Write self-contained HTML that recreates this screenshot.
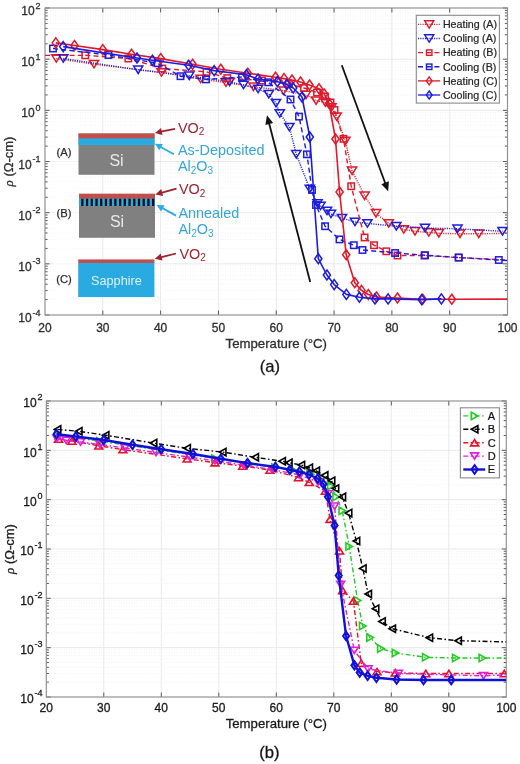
<!DOCTYPE html>
<html><head><meta charset="utf-8"><title>Resistivity vs Temperature</title>
<style>html,body{margin:0;padding:0;background:#fff;}svg{display:block;}</style>
</head><body>
<svg width="520" height="764" viewBox="0 0 520 764">
<defs><clipPath id="ca"><rect x="45" y="8" width="462.5" height="307"/></clipPath>
<clipPath id="cb"><rect x="46.3" y="401" width="460" height="296"/></clipPath></defs>
<rect width="520" height="764" fill="#fff"/>
<line x1="102.81" y1="8" x2="102.81" y2="315" stroke="#e9e9e9" stroke-width="1"/>
<line x1="160.62" y1="8" x2="160.62" y2="315" stroke="#e9e9e9" stroke-width="1"/>
<line x1="218.44" y1="8" x2="218.44" y2="315" stroke="#e9e9e9" stroke-width="1"/>
<line x1="276.25" y1="8" x2="276.25" y2="315" stroke="#e9e9e9" stroke-width="1"/>
<line x1="334.06" y1="8" x2="334.06" y2="315" stroke="#e9e9e9" stroke-width="1"/>
<line x1="391.88" y1="8" x2="391.88" y2="315" stroke="#e9e9e9" stroke-width="1"/>
<line x1="449.69" y1="8" x2="449.69" y2="315" stroke="#e9e9e9" stroke-width="1"/>
<line x1="45" y1="299.6" x2="507.5" y2="299.6" stroke="#f2f2f2" stroke-width="1" stroke-dasharray="1 1.5"/>
<line x1="45" y1="290.59" x2="507.5" y2="290.59" stroke="#f2f2f2" stroke-width="1" stroke-dasharray="1 1.5"/>
<line x1="45" y1="284.19" x2="507.5" y2="284.19" stroke="#f2f2f2" stroke-width="1" stroke-dasharray="1 1.5"/>
<line x1="45" y1="279.24" x2="507.5" y2="279.24" stroke="#f2f2f2" stroke-width="1" stroke-dasharray="1 1.5"/>
<line x1="45" y1="275.18" x2="507.5" y2="275.18" stroke="#f2f2f2" stroke-width="1" stroke-dasharray="1 1.5"/>
<line x1="45" y1="271.76" x2="507.5" y2="271.76" stroke="#f2f2f2" stroke-width="1" stroke-dasharray="1 1.5"/>
<line x1="45" y1="268.79" x2="507.5" y2="268.79" stroke="#f2f2f2" stroke-width="1" stroke-dasharray="1 1.5"/>
<line x1="45" y1="266.17" x2="507.5" y2="266.17" stroke="#f2f2f2" stroke-width="1" stroke-dasharray="1 1.5"/>
<line x1="45" y1="263.83" x2="507.5" y2="263.83" stroke="#e9e9e9" stroke-width="1"/>
<line x1="45" y1="248.43" x2="507.5" y2="248.43" stroke="#f2f2f2" stroke-width="1" stroke-dasharray="1 1.5"/>
<line x1="45" y1="239.42" x2="507.5" y2="239.42" stroke="#f2f2f2" stroke-width="1" stroke-dasharray="1 1.5"/>
<line x1="45" y1="233.03" x2="507.5" y2="233.03" stroke="#f2f2f2" stroke-width="1" stroke-dasharray="1 1.5"/>
<line x1="45" y1="228.07" x2="507.5" y2="228.07" stroke="#f2f2f2" stroke-width="1" stroke-dasharray="1 1.5"/>
<line x1="45" y1="224.02" x2="507.5" y2="224.02" stroke="#f2f2f2" stroke-width="1" stroke-dasharray="1 1.5"/>
<line x1="45" y1="220.59" x2="507.5" y2="220.59" stroke="#f2f2f2" stroke-width="1" stroke-dasharray="1 1.5"/>
<line x1="45" y1="217.63" x2="507.5" y2="217.63" stroke="#f2f2f2" stroke-width="1" stroke-dasharray="1 1.5"/>
<line x1="45" y1="215.01" x2="507.5" y2="215.01" stroke="#f2f2f2" stroke-width="1" stroke-dasharray="1 1.5"/>
<line x1="45" y1="212.67" x2="507.5" y2="212.67" stroke="#e9e9e9" stroke-width="1"/>
<line x1="45" y1="197.26" x2="507.5" y2="197.26" stroke="#f2f2f2" stroke-width="1" stroke-dasharray="1 1.5"/>
<line x1="45" y1="188.25" x2="507.5" y2="188.25" stroke="#f2f2f2" stroke-width="1" stroke-dasharray="1 1.5"/>
<line x1="45" y1="181.86" x2="507.5" y2="181.86" stroke="#f2f2f2" stroke-width="1" stroke-dasharray="1 1.5"/>
<line x1="45" y1="176.9" x2="507.5" y2="176.9" stroke="#f2f2f2" stroke-width="1" stroke-dasharray="1 1.5"/>
<line x1="45" y1="172.85" x2="507.5" y2="172.85" stroke="#f2f2f2" stroke-width="1" stroke-dasharray="1 1.5"/>
<line x1="45" y1="169.43" x2="507.5" y2="169.43" stroke="#f2f2f2" stroke-width="1" stroke-dasharray="1 1.5"/>
<line x1="45" y1="166.46" x2="507.5" y2="166.46" stroke="#f2f2f2" stroke-width="1" stroke-dasharray="1 1.5"/>
<line x1="45" y1="163.84" x2="507.5" y2="163.84" stroke="#f2f2f2" stroke-width="1" stroke-dasharray="1 1.5"/>
<line x1="45" y1="161.5" x2="507.5" y2="161.5" stroke="#e9e9e9" stroke-width="1"/>
<line x1="45" y1="146.1" x2="507.5" y2="146.1" stroke="#f2f2f2" stroke-width="1" stroke-dasharray="1 1.5"/>
<line x1="45" y1="137.09" x2="507.5" y2="137.09" stroke="#f2f2f2" stroke-width="1" stroke-dasharray="1 1.5"/>
<line x1="45" y1="130.69" x2="507.5" y2="130.69" stroke="#f2f2f2" stroke-width="1" stroke-dasharray="1 1.5"/>
<line x1="45" y1="125.74" x2="507.5" y2="125.74" stroke="#f2f2f2" stroke-width="1" stroke-dasharray="1 1.5"/>
<line x1="45" y1="121.68" x2="507.5" y2="121.68" stroke="#f2f2f2" stroke-width="1" stroke-dasharray="1 1.5"/>
<line x1="45" y1="118.26" x2="507.5" y2="118.26" stroke="#f2f2f2" stroke-width="1" stroke-dasharray="1 1.5"/>
<line x1="45" y1="115.29" x2="507.5" y2="115.29" stroke="#f2f2f2" stroke-width="1" stroke-dasharray="1 1.5"/>
<line x1="45" y1="112.67" x2="507.5" y2="112.67" stroke="#f2f2f2" stroke-width="1" stroke-dasharray="1 1.5"/>
<line x1="45" y1="110.33" x2="507.5" y2="110.33" stroke="#e9e9e9" stroke-width="1"/>
<line x1="45" y1="94.93" x2="507.5" y2="94.93" stroke="#f2f2f2" stroke-width="1" stroke-dasharray="1 1.5"/>
<line x1="45" y1="85.92" x2="507.5" y2="85.92" stroke="#f2f2f2" stroke-width="1" stroke-dasharray="1 1.5"/>
<line x1="45" y1="79.53" x2="507.5" y2="79.53" stroke="#f2f2f2" stroke-width="1" stroke-dasharray="1 1.5"/>
<line x1="45" y1="74.57" x2="507.5" y2="74.57" stroke="#f2f2f2" stroke-width="1" stroke-dasharray="1 1.5"/>
<line x1="45" y1="70.52" x2="507.5" y2="70.52" stroke="#f2f2f2" stroke-width="1" stroke-dasharray="1 1.5"/>
<line x1="45" y1="67.09" x2="507.5" y2="67.09" stroke="#f2f2f2" stroke-width="1" stroke-dasharray="1 1.5"/>
<line x1="45" y1="64.13" x2="507.5" y2="64.13" stroke="#f2f2f2" stroke-width="1" stroke-dasharray="1 1.5"/>
<line x1="45" y1="61.51" x2="507.5" y2="61.51" stroke="#f2f2f2" stroke-width="1" stroke-dasharray="1 1.5"/>
<line x1="45" y1="59.17" x2="507.5" y2="59.17" stroke="#e9e9e9" stroke-width="1"/>
<line x1="45" y1="43.76" x2="507.5" y2="43.76" stroke="#f2f2f2" stroke-width="1" stroke-dasharray="1 1.5"/>
<line x1="45" y1="34.75" x2="507.5" y2="34.75" stroke="#f2f2f2" stroke-width="1" stroke-dasharray="1 1.5"/>
<line x1="45" y1="28.36" x2="507.5" y2="28.36" stroke="#f2f2f2" stroke-width="1" stroke-dasharray="1 1.5"/>
<line x1="45" y1="23.4" x2="507.5" y2="23.4" stroke="#f2f2f2" stroke-width="1" stroke-dasharray="1 1.5"/>
<line x1="45" y1="19.35" x2="507.5" y2="19.35" stroke="#f2f2f2" stroke-width="1" stroke-dasharray="1 1.5"/>
<line x1="45" y1="15.93" x2="507.5" y2="15.93" stroke="#f2f2f2" stroke-width="1" stroke-dasharray="1 1.5"/>
<line x1="45" y1="12.96" x2="507.5" y2="12.96" stroke="#f2f2f2" stroke-width="1" stroke-dasharray="1 1.5"/>
<line x1="45" y1="10.34" x2="507.5" y2="10.34" stroke="#f2f2f2" stroke-width="1" stroke-dasharray="1 1.5"/>
<path d="M102.81 315v-4.5M102.81 8v4.5M160.62 315v-4.5M160.62 8v4.5M218.44 315v-4.5M218.44 8v4.5M276.25 315v-4.5M276.25 8v4.5M334.06 315v-4.5M334.06 8v4.5M391.88 315v-4.5M391.88 8v4.5M449.69 315v-4.5M449.69 8v4.5M45 315h4.5M507.5 315h-4.5M45 299.6h2.6M507.5 299.6h-2.6M45 290.59h2.6M507.5 290.59h-2.6M45 284.19h2.6M507.5 284.19h-2.6M45 279.24h2.6M507.5 279.24h-2.6M45 275.18h2.6M507.5 275.18h-2.6M45 271.76h2.6M507.5 271.76h-2.6M45 268.79h2.6M507.5 268.79h-2.6M45 266.17h2.6M507.5 266.17h-2.6M45 263.83h4.5M507.5 263.83h-4.5M45 248.43h2.6M507.5 248.43h-2.6M45 239.42h2.6M507.5 239.42h-2.6M45 233.03h2.6M507.5 233.03h-2.6M45 228.07h2.6M507.5 228.07h-2.6M45 224.02h2.6M507.5 224.02h-2.6M45 220.59h2.6M507.5 220.59h-2.6M45 217.63h2.6M507.5 217.63h-2.6M45 215.01h2.6M507.5 215.01h-2.6M45 212.67h4.5M507.5 212.67h-4.5M45 197.26h2.6M507.5 197.26h-2.6M45 188.25h2.6M507.5 188.25h-2.6M45 181.86h2.6M507.5 181.86h-2.6M45 176.9h2.6M507.5 176.9h-2.6M45 172.85h2.6M507.5 172.85h-2.6M45 169.43h2.6M507.5 169.43h-2.6M45 166.46h2.6M507.5 166.46h-2.6M45 163.84h2.6M507.5 163.84h-2.6M45 161.5h4.5M507.5 161.5h-4.5M45 146.1h2.6M507.5 146.1h-2.6M45 137.09h2.6M507.5 137.09h-2.6M45 130.69h2.6M507.5 130.69h-2.6M45 125.74h2.6M507.5 125.74h-2.6M45 121.68h2.6M507.5 121.68h-2.6M45 118.26h2.6M507.5 118.26h-2.6M45 115.29h2.6M507.5 115.29h-2.6M45 112.67h2.6M507.5 112.67h-2.6M45 110.33h4.5M507.5 110.33h-4.5M45 94.93h2.6M507.5 94.93h-2.6M45 85.92h2.6M507.5 85.92h-2.6M45 79.53h2.6M507.5 79.53h-2.6M45 74.57h2.6M507.5 74.57h-2.6M45 70.52h2.6M507.5 70.52h-2.6M45 67.09h2.6M507.5 67.09h-2.6M45 64.13h2.6M507.5 64.13h-2.6M45 61.51h2.6M507.5 61.51h-2.6M45 59.17h4.5M507.5 59.17h-4.5M45 43.76h2.6M507.5 43.76h-2.6M45 34.75h2.6M507.5 34.75h-2.6M45 28.36h2.6M507.5 28.36h-2.6M45 23.4h2.6M507.5 23.4h-2.6M45 19.35h2.6M507.5 19.35h-2.6M45 15.93h2.6M507.5 15.93h-2.6M45 12.96h2.6M507.5 12.96h-2.6M45 10.34h2.6M507.5 10.34h-2.6M45 8h4.5M507.5 8h-4.5" stroke="#5a5a5a" stroke-width="1" fill="none"/>
<rect x="45" y="8" width="462.5" height="307" fill="none" stroke="#8e8e8e" stroke-width="1.15"/>
<rect x="54" y="120" width="24" height="180" fill="#fff" fill-opacity="0.6"/>
<path d="M56.3 58.5L94 64.2L161.5 72.5L200.6 79L226 82.6L253.5 86.8L283.5 90.6L306 95L316.1 100.6L325.4 102.6L331.5 107.5L336.7 116.7L345.4 141L352.1 170.8L364.6 195.8L376 213.3L388.7 223.5L403.8 229.5L415 231.3L428.8 232.5L438.8 233.3L460 233.8L478.8 233.8L507.5 233.3" fill="none" stroke="#de1a2c" stroke-width="1.4" stroke-dasharray="1.1 1.2" stroke-linejoin="round" clip-path="url(#ca)"/>
<g fill="none" stroke="#de1a2c" stroke-width="1.5" stroke-linejoin="miter" clip-path="url(#ca)"><path d="M51.7 54.8L60.9 54.8L56.3 62.2Z"/><path d="M89.4 60.5L98.6 60.5L94 67.9Z"/><path d="M156.9 68.8L166.1 68.8L161.5 76.2Z"/><path d="M196 75.3L205.2 75.3L200.6 82.7Z"/><path d="M221.4 78.9L230.6 78.9L226 86.3Z"/><path d="M248.9 83.1L258.1 83.1L253.5 90.5Z"/><path d="M278.9 86.9L288.1 86.9L283.5 94.3Z"/><path d="M301.4 91.3L310.6 91.3L306 98.7Z"/><path d="M311.5 96.9L320.7 96.9L316.1 104.3Z"/><path d="M320.8 98.9L330 98.9L325.4 106.3Z"/><path d="M326.9 103.8L336.1 103.8L331.5 111.2Z"/><path d="M332.1 113L341.3 113L336.7 120.4Z"/><path d="M340.8 137.3L350 137.3L345.4 144.7Z"/><path d="M347.5 167.1L356.7 167.1L352.1 174.5Z"/><path d="M360 192.1L369.2 192.1L364.6 199.5Z"/><path d="M371.4 209.6L380.6 209.6L376 217Z"/><path d="M384.1 219.8L393.3 219.8L388.7 227.2Z"/><path d="M399.2 225.8L408.4 225.8L403.8 233.2Z"/><path d="M410.4 227.6L419.6 227.6L415 235Z"/><path d="M424.2 228.8L433.4 228.8L428.8 236.2Z"/><path d="M434.2 229.6L443.4 229.6L438.8 237Z"/><path d="M455.4 230.1L464.6 230.1L460 237.5Z"/><path d="M474.2 230.1L483.4 230.1L478.8 237.5Z"/></g>
<path d="M63.3 58.5L138.2 69.8L189.2 75.8L229.6 81.9L243.5 85L258.1 89L268.8 94.2L276 103.2L279.8 113.5L289.4 127.2L296.3 154.3L309.8 189L317.5 203.5L320.5 206L327 211L331 214L342 218.1L355 222L367.4 223.4L396.3 226.3L425 228L457.5 228.8L502.5 231.3" fill="none" stroke="#1c1cde" stroke-width="1.4" stroke-dasharray="1.1 1.2" stroke-linejoin="round" clip-path="url(#ca)"/>
<g fill="none" stroke="#1c1cde" stroke-width="1.5" stroke-linejoin="miter" clip-path="url(#ca)"><path d="M58.7 54.8L67.9 54.8L63.3 62.2Z"/><path d="M133.6 66.1L142.8 66.1L138.2 73.5Z"/><path d="M184.6 72.1L193.8 72.1L189.2 79.5Z"/><path d="M225 78.2L234.2 78.2L229.6 85.6Z"/><path d="M238.9 81.3L248.1 81.3L243.5 88.7Z"/><path d="M253.5 85.3L262.7 85.3L258.1 92.7Z"/><path d="M264.2 90.5L273.4 90.5L268.8 97.9Z"/><path d="M271.4 99.5L280.6 99.5L276 106.9Z"/><path d="M275.2 109.8L284.4 109.8L279.8 117.2Z"/><path d="M284.8 123.5L294 123.5L289.4 130.9Z"/><path d="M291.7 150.6L300.9 150.6L296.3 158Z"/><path d="M305.2 185.3L314.4 185.3L309.8 192.7Z"/><path d="M312.9 199.8L322.1 199.8L317.5 207.2Z"/><path d="M315.9 202.3L325.1 202.3L320.5 209.7Z"/><path d="M322.4 207.3L331.6 207.3L327 214.7Z"/><path d="M326.4 210.3L335.6 210.3L331 217.7Z"/><path d="M337.4 214.4L346.6 214.4L342 221.8Z"/><path d="M350.4 218.3L359.6 218.3L355 225.7Z"/><path d="M362.8 219.7L372 219.7L367.4 227.1Z"/><path d="M391.7 222.6L400.9 222.6L396.3 230Z"/><path d="M420.4 224.3L429.6 224.3L425 231.7Z"/><path d="M452.9 225.1L462.1 225.1L457.5 232.5Z"/><path d="M497.9 227.6L507.1 227.6L502.5 235Z"/></g>
<path d="M85.3 55.3L128.3 58.5L162.3 68.5L206.5 71.9L227.3 78.1L262 80.5L289 84L304 88L317 92.5L325 96.5L330.5 102.5L334.5 110L343.5 138.8L351.2 186.2L364.6 237.5L374 245.2L386.3 251.3L397.5 255.5L424.5 255.5L458.5 257.6L507.5 260" fill="none" stroke="#de1a2c" stroke-width="1.4" stroke-dasharray="5 3.2" stroke-linejoin="round" clip-path="url(#ca)"/>
<g fill="none" stroke="#de1a2c" stroke-width="1.5" stroke-linejoin="miter" clip-path="url(#ca)"><rect x="82.1" y="52.1" width="6.4" height="6.4"/><rect x="125.1" y="55.3" width="6.4" height="6.4"/><rect x="159.1" y="65.3" width="6.4" height="6.4"/><rect x="203.3" y="68.7" width="6.4" height="6.4"/><rect x="224.1" y="74.9" width="6.4" height="6.4"/><rect x="258.8" y="77.3" width="6.4" height="6.4"/><rect x="285.8" y="80.8" width="6.4" height="6.4"/><rect x="300.8" y="84.8" width="6.4" height="6.4"/><rect x="313.8" y="89.3" width="6.4" height="6.4"/><rect x="321.8" y="93.3" width="6.4" height="6.4"/><rect x="327.3" y="99.3" width="6.4" height="6.4"/><rect x="331.3" y="106.8" width="6.4" height="6.4"/><rect x="340.3" y="135.6" width="6.4" height="6.4"/><rect x="348" y="183" width="6.4" height="6.4"/><rect x="361.4" y="234.3" width="6.4" height="6.4"/><rect x="370.8" y="242" width="6.4" height="6.4"/><rect x="383.1" y="248.1" width="6.4" height="6.4"/><rect x="394.3" y="252.3" width="6.4" height="6.4"/><rect x="421.3" y="252.3" width="6.4" height="6.4"/><rect x="455.3" y="254.4" width="6.4" height="6.4"/></g>
<path d="M45 55.3L85.3 55.3" stroke="#de1a2c" stroke-width="1.3" stroke-dasharray="5 3.2"/>
<path d="M53 48.5L108.5 55L157.7 63.2L180.5 76.2L206 79.4L242 77L268.2 82.3L290.5 99.5L299 116.6L306.9 154.3L312 190L316 205L325.1 226.2L339.5 239.4L353.8 245.2L362.5 250L395.1 253L425 255.2L458.8 257.5L498.8 260L507.5 260.5" fill="none" stroke="#1c1cde" stroke-width="1.4" stroke-dasharray="5 3.2" stroke-linejoin="round" clip-path="url(#ca)"/>
<g fill="none" stroke="#1c1cde" stroke-width="1.5" stroke-linejoin="miter" clip-path="url(#ca)"><rect x="49.8" y="45.3" width="6.4" height="6.4"/><rect x="105.3" y="51.8" width="6.4" height="6.4"/><rect x="154.5" y="60" width="6.4" height="6.4"/><rect x="177.3" y="73" width="6.4" height="6.4"/><rect x="202.8" y="76.2" width="6.4" height="6.4"/><rect x="238.8" y="73.8" width="6.4" height="6.4"/><rect x="265" y="79.1" width="6.4" height="6.4"/><rect x="287.3" y="96.3" width="6.4" height="6.4"/><rect x="295.8" y="113.4" width="6.4" height="6.4"/><rect x="303.7" y="151.1" width="6.4" height="6.4"/><rect x="308.8" y="186.8" width="6.4" height="6.4"/><rect x="312.8" y="201.8" width="6.4" height="6.4"/><rect x="321.9" y="223" width="6.4" height="6.4"/><rect x="336.3" y="236.2" width="6.4" height="6.4"/><rect x="350.6" y="242" width="6.4" height="6.4"/><rect x="359.3" y="246.8" width="6.4" height="6.4"/><rect x="391.9" y="249.8" width="6.4" height="6.4"/><rect x="421.8" y="252" width="6.4" height="6.4"/><rect x="455.6" y="254.3" width="6.4" height="6.4"/><rect x="495.6" y="256.8" width="6.4" height="6.4"/></g>
<path d="M55.8 42.9L74.5 45.5L102.8 49.6L131.5 54.2L160.8 58.6L192.6 64.2L220.8 69.3L247.8 73.2L275.5 77.2L284 78.6L292 80L300.5 82L309.5 85L319 88.8L324.2 94L329 103.3L335.5 139L339.6 192L346.2 254.8L354.8 282.7L361.5 290.4L368.3 294.5L376.5 297L397.5 298L422.7 299.2L451.8 299.2L507.5 299.1" fill="none" stroke="#de1a2c" stroke-width="1.6" stroke-linejoin="round" clip-path="url(#ca)"/>
<g fill="none" stroke="#de1a2c" stroke-width="1.5" stroke-linejoin="miter" clip-path="url(#ca)"><path d="M55.8 37.9L59.4 42.9L55.8 47.9L52.2 42.9Z"/><path d="M74.5 40.5L78.1 45.5L74.5 50.5L70.9 45.5Z"/><path d="M102.8 44.6L106.4 49.6L102.8 54.6L99.2 49.6Z"/><path d="M131.5 49.2L135.1 54.2L131.5 59.2L127.9 54.2Z"/><path d="M160.8 53.6L164.4 58.6L160.8 63.6L157.2 58.6Z"/><path d="M192.6 59.2L196.2 64.2L192.6 69.2L189 64.2Z"/><path d="M220.8 64.3L224.4 69.3L220.8 74.3L217.2 69.3Z"/><path d="M247.8 68.2L251.4 73.2L247.8 78.2L244.2 73.2Z"/><path d="M275.5 72.2L279.1 77.2L275.5 82.2L271.9 77.2Z"/><path d="M284 73.6L287.6 78.6L284 83.6L280.4 78.6Z"/><path d="M292 75L295.6 80L292 85L288.4 80Z"/><path d="M300.5 77L304.1 82L300.5 87L296.9 82Z"/><path d="M309.5 80L313.1 85L309.5 90L305.9 85Z"/><path d="M319 83.8L322.6 88.8L319 93.8L315.4 88.8Z"/><path d="M324.2 89L327.8 94L324.2 99L320.6 94Z"/><path d="M329 98.3L332.6 103.3L329 108.3L325.4 103.3Z"/><path d="M335.5 134L339.1 139L335.5 144L331.9 139Z"/><path d="M339.6 187L343.2 192L339.6 197L336 192Z"/><path d="M346.2 249.8L349.8 254.8L346.2 259.8L342.6 254.8Z"/><path d="M354.8 277.7L358.4 282.7L354.8 287.7L351.2 282.7Z"/><path d="M361.5 285.4L365.1 290.4L361.5 295.4L357.9 290.4Z"/><path d="M368.3 289.5L371.9 294.5L368.3 299.5L364.7 294.5Z"/><path d="M376.5 292L380.1 297L376.5 302L372.9 297Z"/><path d="M397.5 293L401.1 298L397.5 303L393.9 298Z"/><path d="M422.7 294.2L426.3 299.2L422.7 304.2L419.1 299.2Z"/><path d="M451.8 294.2L455.4 299.2L451.8 304.2L448.2 299.2Z"/></g>
<path d="M63.2 46.6L137 58L152.4 60.2L188.6 65.3L214.2 70.6L246.4 74.8L258 79L277.4 81.6L286.8 84.5L293.2 88L302 97L309.8 137L318.3 258.7L326.9 275L334.2 284.6L346.4 294.4L359.4 297.2L375 298.9L388.1 298.9L421.7 299.6L441.4 298.9" fill="none" stroke="#1c1cde" stroke-width="1.6" stroke-linejoin="round" clip-path="url(#ca)"/>
<g fill="none" stroke="#1c1cde" stroke-width="1.5" stroke-linejoin="miter" clip-path="url(#ca)"><path d="M63.2 41.6L66.8 46.6L63.2 51.6L59.6 46.6Z"/><path d="M137 53L140.6 58L137 63L133.4 58Z"/><path d="M152.4 55.2L156 60.2L152.4 65.2L148.8 60.2Z"/><path d="M188.6 60.3L192.2 65.3L188.6 70.3L185 65.3Z"/><path d="M214.2 65.6L217.8 70.6L214.2 75.6L210.6 70.6Z"/><path d="M246.4 69.8L250 74.8L246.4 79.8L242.8 74.8Z"/><path d="M258 74L261.6 79L258 84L254.4 79Z"/><path d="M277.4 76.6L281 81.6L277.4 86.6L273.8 81.6Z"/><path d="M286.8 79.5L290.4 84.5L286.8 89.5L283.2 84.5Z"/><path d="M293.2 83L296.8 88L293.2 93L289.6 88Z"/><path d="M302 92L305.6 97L302 102L298.4 97Z"/><path d="M309.8 132L313.4 137L309.8 142L306.2 137Z"/><path d="M318.3 253.7L321.9 258.7L318.3 263.7L314.7 258.7Z"/><path d="M326.9 270L330.5 275L326.9 280L323.3 275Z"/><path d="M334.2 279.6L337.8 284.6L334.2 289.6L330.6 284.6Z"/><path d="M346.4 289.4L350 294.4L346.4 299.4L342.8 294.4Z"/><path d="M359.4 292.2L363 297.2L359.4 302.2L355.8 297.2Z"/><path d="M375 293.9L378.6 298.9L375 303.9L371.4 298.9Z"/><path d="M388.1 293.9L391.7 298.9L388.1 303.9L384.5 298.9Z"/><path d="M421.7 294.6L425.3 299.6L421.7 304.6L418.1 299.6Z"/><path d="M441.4 293.9L445 298.9L441.4 303.9L437.8 298.9Z"/></g>
<path d="M310.2 282L269.01 122.94" stroke="#111" stroke-width="1.8"/>
<path d="M267 115.2L273.13 122.91L265.38 124.92Z" fill="#111"/>
<path d="M341.8 65.3L385.43 183.69" stroke="#111" stroke-width="1.8"/>
<path d="M388.2 191.2L381.33 184.14L388.84 181.37Z" fill="#111"/>
<rect x="78.5" y="133.5" width="76" height="41.3" fill="#808080"/>
<rect x="78.5" y="138.2" width="76" height="7" fill="#29abe2"/>
<rect x="78.5" y="133.5" width="76" height="4.8" fill="#c0504d"/>
<rect x="79" y="193.8" width="76" height="44" fill="#808080"/>
<rect x="79" y="198.5" width="76" height="7.5" fill="#29abe2"/>
<rect x="81.2" y="198.5" width="2.3" height="7.5" fill="#0a0a14"/><rect x="85.92" y="198.5" width="2.3" height="7.5" fill="#0a0a14"/><rect x="90.64" y="198.5" width="2.3" height="7.5" fill="#0a0a14"/><rect x="95.36" y="198.5" width="2.3" height="7.5" fill="#0a0a14"/><rect x="100.08" y="198.5" width="2.3" height="7.5" fill="#0a0a14"/><rect x="104.8" y="198.5" width="2.3" height="7.5" fill="#0a0a14"/><rect x="109.52" y="198.5" width="2.3" height="7.5" fill="#0a0a14"/><rect x="114.24" y="198.5" width="2.3" height="7.5" fill="#0a0a14"/><rect x="118.96" y="198.5" width="2.3" height="7.5" fill="#0a0a14"/><rect x="123.68" y="198.5" width="2.3" height="7.5" fill="#0a0a14"/><rect x="128.4" y="198.5" width="2.3" height="7.5" fill="#0a0a14"/><rect x="133.12" y="198.5" width="2.3" height="7.5" fill="#0a0a14"/><rect x="137.84" y="198.5" width="2.3" height="7.5" fill="#0a0a14"/><rect x="142.56" y="198.5" width="2.3" height="7.5" fill="#0a0a14"/><rect x="147.28" y="198.5" width="2.3" height="7.5" fill="#0a0a14"/><rect x="152" y="198.5" width="2.3" height="7.5" fill="#0a0a14"/>
<rect x="79" y="193.8" width="76" height="4.6" fill="#c0504d"/>
<rect x="78.2" y="262.8" width="76.2" height="34.3" fill="#29abe2"/>
<rect x="78.2" y="259.4" width="76.2" height="3.6" fill="#c0504d"/>
<path d="M175 128.8L160.78 131.7" stroke="#a0222f" stroke-width="1.8"/>
<path d="M154.9 132.9L161.04 127.97L162.48 135.03Z" fill="#a0222f"/>
<path d="M173.9 154.2L160.16 146.68" stroke="#29abe2" stroke-width="1.8"/>
<path d="M154.9 143.8L162.77 144L159.31 150.32Z" fill="#29abe2"/>
<path d="M176.5 188.7L161.19 192.84" stroke="#a0222f" stroke-width="1.8"/>
<path d="M155.4 194.4L161.22 189.1L163.1 196.05Z" fill="#a0222f"/>
<path d="M176 215.6L161.96 207.89" stroke="#29abe2" stroke-width="1.8"/>
<path d="M156.7 205L164.57 205.21L161.1 211.53Z" fill="#29abe2"/>
<path d="M176 253.5L160.62 257.34" stroke="#a0222f" stroke-width="1.8"/>
<path d="M154.8 258.8L160.72 253.61L162.46 260.59Z" fill="#a0222f"/>
<g font-family="'Liberation Sans', Arial, sans-serif"><text x="178" y="133.1" fill="#a0222f" font-size="14.4">VO<tspan font-size="10" dy="2.3">2</tspan></text><text x="178" y="154.6" fill="#32a6da" font-size="14.4">As-Deposited</text><text x="178" y="171.2" fill="#32a6da" font-size="14.4">Al<tspan font-size="10" dy="2.3">2</tspan><tspan dy="-2.3">O</tspan><tspan font-size="10" dy="2.3">3</tspan></text><text x="179" y="194.4" fill="#a0222f" font-size="14.4">VO<tspan font-size="10" dy="2.3">2</tspan></text><text x="178.5" y="217.5" fill="#32a6da" font-size="14.4">Annealed</text><text x="178.5" y="234.4" fill="#32a6da" font-size="14.4">Al<tspan font-size="10" dy="2.3">2</tspan><tspan dy="-2.3">O</tspan><tspan font-size="10" dy="2.3">3</tspan></text><text x="179.5" y="258.8" fill="#a0222f" font-size="14.4">VO<tspan font-size="10" dy="2.3">2</tspan></text><text x="116.5" y="165.8" fill="#e8e8e8" font-size="16" text-anchor="middle">Si</text><text x="117" y="227.2" fill="#e8e8e8" font-size="16" text-anchor="middle">Si</text><text x="116.4" y="285" fill="#dff0fa" font-size="12.7" text-anchor="middle">Sapphire</text><text x="64" y="155.6" fill="#2a2a2a" font-size="11.2" text-anchor="middle" stroke="#2a2a2a" stroke-width="0.25">(A)</text><text x="64" y="217" fill="#2a2a2a" font-size="11.2" text-anchor="middle" stroke="#2a2a2a" stroke-width="0.25">(B)</text><text x="64" y="283.4" fill="#2a2a2a" font-size="11.2" text-anchor="middle" stroke="#2a2a2a" stroke-width="0.25">(C)</text></g>
<rect x="416.3" y="15.3" width="83.1" height="87.8" fill="#fff" stroke="#8a8a8a" stroke-width="1.1"/>
<path d="M418 24.4H440.2" stroke="#de1a2c" stroke-width="1.3" stroke-dasharray="1.1 1.2"/>
<g fill="none" stroke="#de1a2c" stroke-width="1.4"><path d="M424.6 20.7L433.8 20.7L429.2 28.1Z"/></g>
<path d="M418 38.52H440.2" stroke="#1c1cde" stroke-width="1.3" stroke-dasharray="1.1 1.2"/>
<g fill="none" stroke="#1c1cde" stroke-width="1.4"><path d="M424.6 34.82L433.8 34.82L429.2 42.22Z"/></g>
<path d="M418 52.64H440.2" stroke="#de1a2c" stroke-width="1.3" stroke-dasharray="5 3.2"/>
<g fill="none" stroke="#de1a2c" stroke-width="1.4"><rect x="426.48" y="49.92" width="5.44" height="5.44"/></g>
<path d="M418 66.76H440.2" stroke="#1c1cde" stroke-width="1.3" stroke-dasharray="5 3.2"/>
<g fill="none" stroke="#1c1cde" stroke-width="1.4"><rect x="426.48" y="64.04" width="5.44" height="5.44"/></g>
<path d="M418 80.88H440.2" stroke="#de1a2c" stroke-width="1.3"/>
<g fill="none" stroke="#de1a2c" stroke-width="1.4"><path d="M429.2 76.88L432.08 80.88L429.2 84.88L426.32 80.88Z"/></g>
<path d="M418 95H440.2" stroke="#1c1cde" stroke-width="1.3"/>
<g fill="none" stroke="#1c1cde" stroke-width="1.4"><path d="M429.2 91L432.08 95L429.2 99L426.32 95Z"/></g>
<g fill="#262626" stroke="#262626" stroke-width="0.22" font-family="'Liberation Sans', Arial, sans-serif"><text x="442.9" y="28.2" font-size="10.7">Heating (A)</text><text x="442.9" y="42.32" font-size="10.7">Cooling (A)</text><text x="442.9" y="56.44" font-size="10.7">Heating (B)</text><text x="442.9" y="70.56" font-size="10.7">Cooling (B)</text><text x="442.9" y="84.68" font-size="10.7">Heating (C)</text><text x="442.9" y="98.8" font-size="10.7">Cooling (C)</text></g>
<line x1="103.8" y1="401" x2="103.8" y2="697" stroke="#e9e9e9" stroke-width="1"/>
<line x1="161.3" y1="401" x2="161.3" y2="697" stroke="#e9e9e9" stroke-width="1"/>
<line x1="218.8" y1="401" x2="218.8" y2="697" stroke="#e9e9e9" stroke-width="1"/>
<line x1="276.3" y1="401" x2="276.3" y2="697" stroke="#e9e9e9" stroke-width="1"/>
<line x1="333.8" y1="401" x2="333.8" y2="697" stroke="#e9e9e9" stroke-width="1"/>
<line x1="391.3" y1="401" x2="391.3" y2="697" stroke="#e9e9e9" stroke-width="1"/>
<line x1="448.8" y1="401" x2="448.8" y2="697" stroke="#e9e9e9" stroke-width="1"/>
<line x1="46.3" y1="682.15" x2="506.3" y2="682.15" stroke="#f2f2f2" stroke-width="1" stroke-dasharray="1 1.5"/>
<line x1="46.3" y1="673.46" x2="506.3" y2="673.46" stroke="#f2f2f2" stroke-width="1" stroke-dasharray="1 1.5"/>
<line x1="46.3" y1="667.3" x2="506.3" y2="667.3" stroke="#f2f2f2" stroke-width="1" stroke-dasharray="1 1.5"/>
<line x1="46.3" y1="662.52" x2="506.3" y2="662.52" stroke="#f2f2f2" stroke-width="1" stroke-dasharray="1 1.5"/>
<line x1="46.3" y1="658.61" x2="506.3" y2="658.61" stroke="#f2f2f2" stroke-width="1" stroke-dasharray="1 1.5"/>
<line x1="46.3" y1="655.31" x2="506.3" y2="655.31" stroke="#f2f2f2" stroke-width="1" stroke-dasharray="1 1.5"/>
<line x1="46.3" y1="652.45" x2="506.3" y2="652.45" stroke="#f2f2f2" stroke-width="1" stroke-dasharray="1 1.5"/>
<line x1="46.3" y1="649.92" x2="506.3" y2="649.92" stroke="#f2f2f2" stroke-width="1" stroke-dasharray="1 1.5"/>
<line x1="46.3" y1="647.67" x2="506.3" y2="647.67" stroke="#e9e9e9" stroke-width="1"/>
<line x1="46.3" y1="632.82" x2="506.3" y2="632.82" stroke="#f2f2f2" stroke-width="1" stroke-dasharray="1 1.5"/>
<line x1="46.3" y1="624.13" x2="506.3" y2="624.13" stroke="#f2f2f2" stroke-width="1" stroke-dasharray="1 1.5"/>
<line x1="46.3" y1="617.97" x2="506.3" y2="617.97" stroke="#f2f2f2" stroke-width="1" stroke-dasharray="1 1.5"/>
<line x1="46.3" y1="613.18" x2="506.3" y2="613.18" stroke="#f2f2f2" stroke-width="1" stroke-dasharray="1 1.5"/>
<line x1="46.3" y1="609.28" x2="506.3" y2="609.28" stroke="#f2f2f2" stroke-width="1" stroke-dasharray="1 1.5"/>
<line x1="46.3" y1="605.98" x2="506.3" y2="605.98" stroke="#f2f2f2" stroke-width="1" stroke-dasharray="1 1.5"/>
<line x1="46.3" y1="603.11" x2="506.3" y2="603.11" stroke="#f2f2f2" stroke-width="1" stroke-dasharray="1 1.5"/>
<line x1="46.3" y1="600.59" x2="506.3" y2="600.59" stroke="#f2f2f2" stroke-width="1" stroke-dasharray="1 1.5"/>
<line x1="46.3" y1="598.33" x2="506.3" y2="598.33" stroke="#e9e9e9" stroke-width="1"/>
<line x1="46.3" y1="583.48" x2="506.3" y2="583.48" stroke="#f2f2f2" stroke-width="1" stroke-dasharray="1 1.5"/>
<line x1="46.3" y1="574.8" x2="506.3" y2="574.8" stroke="#f2f2f2" stroke-width="1" stroke-dasharray="1 1.5"/>
<line x1="46.3" y1="568.63" x2="506.3" y2="568.63" stroke="#f2f2f2" stroke-width="1" stroke-dasharray="1 1.5"/>
<line x1="46.3" y1="563.85" x2="506.3" y2="563.85" stroke="#f2f2f2" stroke-width="1" stroke-dasharray="1 1.5"/>
<line x1="46.3" y1="559.94" x2="506.3" y2="559.94" stroke="#f2f2f2" stroke-width="1" stroke-dasharray="1 1.5"/>
<line x1="46.3" y1="556.64" x2="506.3" y2="556.64" stroke="#f2f2f2" stroke-width="1" stroke-dasharray="1 1.5"/>
<line x1="46.3" y1="553.78" x2="506.3" y2="553.78" stroke="#f2f2f2" stroke-width="1" stroke-dasharray="1 1.5"/>
<line x1="46.3" y1="551.26" x2="506.3" y2="551.26" stroke="#f2f2f2" stroke-width="1" stroke-dasharray="1 1.5"/>
<line x1="46.3" y1="549" x2="506.3" y2="549" stroke="#e9e9e9" stroke-width="1"/>
<line x1="46.3" y1="534.15" x2="506.3" y2="534.15" stroke="#f2f2f2" stroke-width="1" stroke-dasharray="1 1.5"/>
<line x1="46.3" y1="525.46" x2="506.3" y2="525.46" stroke="#f2f2f2" stroke-width="1" stroke-dasharray="1 1.5"/>
<line x1="46.3" y1="519.3" x2="506.3" y2="519.3" stroke="#f2f2f2" stroke-width="1" stroke-dasharray="1 1.5"/>
<line x1="46.3" y1="514.52" x2="506.3" y2="514.52" stroke="#f2f2f2" stroke-width="1" stroke-dasharray="1 1.5"/>
<line x1="46.3" y1="510.61" x2="506.3" y2="510.61" stroke="#f2f2f2" stroke-width="1" stroke-dasharray="1 1.5"/>
<line x1="46.3" y1="507.31" x2="506.3" y2="507.31" stroke="#f2f2f2" stroke-width="1" stroke-dasharray="1 1.5"/>
<line x1="46.3" y1="504.45" x2="506.3" y2="504.45" stroke="#f2f2f2" stroke-width="1" stroke-dasharray="1 1.5"/>
<line x1="46.3" y1="501.92" x2="506.3" y2="501.92" stroke="#f2f2f2" stroke-width="1" stroke-dasharray="1 1.5"/>
<line x1="46.3" y1="499.67" x2="506.3" y2="499.67" stroke="#e9e9e9" stroke-width="1"/>
<line x1="46.3" y1="484.82" x2="506.3" y2="484.82" stroke="#f2f2f2" stroke-width="1" stroke-dasharray="1 1.5"/>
<line x1="46.3" y1="476.13" x2="506.3" y2="476.13" stroke="#f2f2f2" stroke-width="1" stroke-dasharray="1 1.5"/>
<line x1="46.3" y1="469.97" x2="506.3" y2="469.97" stroke="#f2f2f2" stroke-width="1" stroke-dasharray="1 1.5"/>
<line x1="46.3" y1="465.18" x2="506.3" y2="465.18" stroke="#f2f2f2" stroke-width="1" stroke-dasharray="1 1.5"/>
<line x1="46.3" y1="461.28" x2="506.3" y2="461.28" stroke="#f2f2f2" stroke-width="1" stroke-dasharray="1 1.5"/>
<line x1="46.3" y1="457.98" x2="506.3" y2="457.98" stroke="#f2f2f2" stroke-width="1" stroke-dasharray="1 1.5"/>
<line x1="46.3" y1="455.11" x2="506.3" y2="455.11" stroke="#f2f2f2" stroke-width="1" stroke-dasharray="1 1.5"/>
<line x1="46.3" y1="452.59" x2="506.3" y2="452.59" stroke="#f2f2f2" stroke-width="1" stroke-dasharray="1 1.5"/>
<line x1="46.3" y1="450.33" x2="506.3" y2="450.33" stroke="#e9e9e9" stroke-width="1"/>
<line x1="46.3" y1="435.48" x2="506.3" y2="435.48" stroke="#f2f2f2" stroke-width="1" stroke-dasharray="1 1.5"/>
<line x1="46.3" y1="426.8" x2="506.3" y2="426.8" stroke="#f2f2f2" stroke-width="1" stroke-dasharray="1 1.5"/>
<line x1="46.3" y1="420.63" x2="506.3" y2="420.63" stroke="#f2f2f2" stroke-width="1" stroke-dasharray="1 1.5"/>
<line x1="46.3" y1="415.85" x2="506.3" y2="415.85" stroke="#f2f2f2" stroke-width="1" stroke-dasharray="1 1.5"/>
<line x1="46.3" y1="411.94" x2="506.3" y2="411.94" stroke="#f2f2f2" stroke-width="1" stroke-dasharray="1 1.5"/>
<line x1="46.3" y1="408.64" x2="506.3" y2="408.64" stroke="#f2f2f2" stroke-width="1" stroke-dasharray="1 1.5"/>
<line x1="46.3" y1="405.78" x2="506.3" y2="405.78" stroke="#f2f2f2" stroke-width="1" stroke-dasharray="1 1.5"/>
<line x1="46.3" y1="403.26" x2="506.3" y2="403.26" stroke="#f2f2f2" stroke-width="1" stroke-dasharray="1 1.5"/>
<path d="M103.8 697v-4.5M103.8 401v4.5M161.3 697v-4.5M161.3 401v4.5M218.8 697v-4.5M218.8 401v4.5M276.3 697v-4.5M276.3 401v4.5M333.8 697v-4.5M333.8 401v4.5M391.3 697v-4.5M391.3 401v4.5M448.8 697v-4.5M448.8 401v4.5M46.3 697h4.5M506.3 697h-4.5M46.3 682.15h2.6M506.3 682.15h-2.6M46.3 673.46h2.6M506.3 673.46h-2.6M46.3 667.3h2.6M506.3 667.3h-2.6M46.3 662.52h2.6M506.3 662.52h-2.6M46.3 658.61h2.6M506.3 658.61h-2.6M46.3 655.31h2.6M506.3 655.31h-2.6M46.3 652.45h2.6M506.3 652.45h-2.6M46.3 649.92h2.6M506.3 649.92h-2.6M46.3 647.67h4.5M506.3 647.67h-4.5M46.3 632.82h2.6M506.3 632.82h-2.6M46.3 624.13h2.6M506.3 624.13h-2.6M46.3 617.97h2.6M506.3 617.97h-2.6M46.3 613.18h2.6M506.3 613.18h-2.6M46.3 609.28h2.6M506.3 609.28h-2.6M46.3 605.98h2.6M506.3 605.98h-2.6M46.3 603.11h2.6M506.3 603.11h-2.6M46.3 600.59h2.6M506.3 600.59h-2.6M46.3 598.33h4.5M506.3 598.33h-4.5M46.3 583.48h2.6M506.3 583.48h-2.6M46.3 574.8h2.6M506.3 574.8h-2.6M46.3 568.63h2.6M506.3 568.63h-2.6M46.3 563.85h2.6M506.3 563.85h-2.6M46.3 559.94h2.6M506.3 559.94h-2.6M46.3 556.64h2.6M506.3 556.64h-2.6M46.3 553.78h2.6M506.3 553.78h-2.6M46.3 551.26h2.6M506.3 551.26h-2.6M46.3 549h4.5M506.3 549h-4.5M46.3 534.15h2.6M506.3 534.15h-2.6M46.3 525.46h2.6M506.3 525.46h-2.6M46.3 519.3h2.6M506.3 519.3h-2.6M46.3 514.52h2.6M506.3 514.52h-2.6M46.3 510.61h2.6M506.3 510.61h-2.6M46.3 507.31h2.6M506.3 507.31h-2.6M46.3 504.45h2.6M506.3 504.45h-2.6M46.3 501.92h2.6M506.3 501.92h-2.6M46.3 499.67h4.5M506.3 499.67h-4.5M46.3 484.82h2.6M506.3 484.82h-2.6M46.3 476.13h2.6M506.3 476.13h-2.6M46.3 469.97h2.6M506.3 469.97h-2.6M46.3 465.18h2.6M506.3 465.18h-2.6M46.3 461.28h2.6M506.3 461.28h-2.6M46.3 457.98h2.6M506.3 457.98h-2.6M46.3 455.11h2.6M506.3 455.11h-2.6M46.3 452.59h2.6M506.3 452.59h-2.6M46.3 450.33h4.5M506.3 450.33h-4.5M46.3 435.48h2.6M506.3 435.48h-2.6M46.3 426.8h2.6M506.3 426.8h-2.6M46.3 420.63h2.6M506.3 420.63h-2.6M46.3 415.85h2.6M506.3 415.85h-2.6M46.3 411.94h2.6M506.3 411.94h-2.6M46.3 408.64h2.6M506.3 408.64h-2.6M46.3 405.78h2.6M506.3 405.78h-2.6M46.3 403.26h2.6M506.3 403.26h-2.6M46.3 401h4.5M506.3 401h-4.5" stroke="#5a5a5a" stroke-width="1" fill="none"/>
<rect x="46.3" y="401" width="460" height="296" fill="none" stroke="#8e8e8e" stroke-width="1.15"/>
<path d="M58 435.5L100 441.2L160 450L215 458.5L250 464L275 467.5L293 470L310 473L322 477.5L331 486L336.2 496.9L342.3 510.8L349.2 546.5L357.6 600.5L362.8 626L370.1 637.6L380.9 648.6L395.6 653L425.8 657.3L455.8 658L482.4 658L506.3 658" fill="none" stroke="#22cc22" stroke-width="1.4" stroke-dasharray="5 2.4 1.6 2.4" stroke-linejoin="round" clip-path="url(#cb)"/>
<g fill="none" stroke="#22cc22" stroke-width="1.6" stroke-linejoin="miter" clip-path="url(#cb)"><path d="M54.73 431.8L54.73 439.2L61.27 435.5Z"/><path d="M96.73 437.5L96.73 444.9L103.27 441.2Z"/><path d="M156.73 446.3L156.73 453.7L163.27 450Z"/><path d="M211.73 454.8L211.73 462.2L218.27 458.5Z"/><path d="M246.73 460.3L246.73 467.7L253.27 464Z"/><path d="M271.73 463.8L271.73 471.2L278.27 467.5Z"/><path d="M289.73 466.3L289.73 473.7L296.27 470Z"/><path d="M306.73 469.3L306.73 476.7L313.27 473Z"/><path d="M318.73 473.8L318.73 481.2L325.27 477.5Z"/><path d="M327.73 482.3L327.73 489.7L334.27 486Z"/><path d="M332.93 493.2L332.93 500.6L339.47 496.9Z"/><path d="M339.03 507.1L339.03 514.5L345.57 510.8Z"/><path d="M345.93 542.8L345.93 550.2L352.47 546.5Z"/><path d="M354.33 596.8L354.33 604.2L360.87 600.5Z"/><path d="M359.53 622.3L359.53 629.7L366.07 626Z"/><path d="M366.83 633.9L366.83 641.3L373.37 637.6Z"/><path d="M377.63 644.9L377.63 652.3L384.17 648.6Z"/><path d="M392.33 649.3L392.33 656.7L398.87 653Z"/><path d="M422.53 653.6L422.53 661L429.07 657.3Z"/><path d="M452.53 654.3L452.53 661.7L459.07 658Z"/><path d="M479.13 654.3L479.13 661.7L485.67 658Z"/></g>
<path d="M57.5 429.4L78.7 431.3L105.6 435.2L153.5 443.1L187.1 448.3L222.7 452.1L255.2 457.3L282.1 461.2L288.8 462.7L301.3 465L309.2 467.7L316.2 470.8L324.6 475.4L331.5 480.8L335.4 488.5L342.3 496.9L348.5 513.1L356.4 541L362.8 568.5L368.2 594L375.5 608.7L382 621.5L392.2 628.7L429.3 637.7L458.1 640.7L506.3 641.9" fill="none" stroke="#000" stroke-width="1.4" stroke-dasharray="5 2.4 1.6 2.4" stroke-linejoin="round" clip-path="url(#cb)"/>
<g fill="none" stroke="#000" stroke-width="1.6" stroke-linejoin="miter" clip-path="url(#cb)"><path d="M60.77 425.7L60.77 433.1L54.23 429.4Z"/><path d="M81.97 427.6L81.97 435L75.43 431.3Z"/><path d="M108.87 431.5L108.87 438.9L102.33 435.2Z"/><path d="M156.77 439.4L156.77 446.8L150.23 443.1Z"/><path d="M190.37 444.6L190.37 452L183.83 448.3Z"/><path d="M225.97 448.4L225.97 455.8L219.43 452.1Z"/><path d="M258.47 453.6L258.47 461L251.93 457.3Z"/><path d="M285.37 457.5L285.37 464.9L278.83 461.2Z"/><path d="M292.07 459L292.07 466.4L285.53 462.7Z"/><path d="M304.57 461.3L304.57 468.7L298.03 465Z"/><path d="M312.47 464L312.47 471.4L305.93 467.7Z"/><path d="M319.47 467.1L319.47 474.5L312.93 470.8Z"/><path d="M327.87 471.7L327.87 479.1L321.33 475.4Z"/><path d="M334.77 477.1L334.77 484.5L328.23 480.8Z"/><path d="M338.67 484.8L338.67 492.2L332.13 488.5Z"/><path d="M345.57 493.2L345.57 500.6L339.03 496.9Z"/><path d="M351.77 509.4L351.77 516.8L345.23 513.1Z"/><path d="M359.67 537.3L359.67 544.7L353.13 541Z"/><path d="M366.07 564.8L366.07 572.2L359.53 568.5Z"/><path d="M371.47 590.3L371.47 597.7L364.93 594Z"/><path d="M378.77 605L378.77 612.4L372.23 608.7Z"/><path d="M385.27 617.8L385.27 625.2L378.73 621.5Z"/><path d="M395.47 625L395.47 632.4L388.93 628.7Z"/><path d="M432.57 634L432.57 641.4L426.03 637.7Z"/><path d="M461.37 637L461.37 644.4L454.83 640.7Z"/></g>
<path d="M58.5 439L71.9 441L98.8 445.8L122.9 449.6L187.1 458.8L215 462.7L242.7 466L270 470L298.5 477.5L309.2 482.3L325.4 491L330 519.2L339.5 550.8L342.6 590.5L353.4 601L361.2 663.2L377 671.6L395.3 672.8L425.8 673.5L448.9 673.5L504.3 673.5" fill="none" stroke="#e8102a" stroke-width="1.4" stroke-dasharray="5 2.4 1.6 2.4" stroke-linejoin="round" clip-path="url(#cb)"/>
<g fill="none" stroke="#e8102a" stroke-width="1.6" stroke-linejoin="miter" clip-path="url(#cb)"><path d="M54.54 442.18L62.46 442.18L58.5 435.82Z"/><path d="M67.94 444.18L75.86 444.18L71.9 437.82Z"/><path d="M94.84 448.98L102.76 448.98L98.8 442.62Z"/><path d="M118.94 452.78L126.86 452.78L122.9 446.42Z"/><path d="M183.14 461.98L191.06 461.98L187.1 455.62Z"/><path d="M211.04 465.88L218.96 465.88L215 459.52Z"/><path d="M238.74 469.18L246.66 469.18L242.7 462.82Z"/><path d="M266.04 473.18L273.96 473.18L270 466.82Z"/><path d="M294.54 480.68L302.46 480.68L298.5 474.32Z"/><path d="M305.24 485.48L313.16 485.48L309.2 479.12Z"/><path d="M321.44 494.18L329.36 494.18L325.4 487.82Z"/><path d="M326.04 522.38L333.96 522.38L330 516.02Z"/><path d="M335.54 553.98L343.46 553.98L339.5 547.62Z"/><path d="M338.64 593.68L346.56 593.68L342.6 587.32Z"/><path d="M349.44 604.18L357.36 604.18L353.4 597.82Z"/><path d="M357.24 666.38L365.16 666.38L361.2 660.02Z"/><path d="M373.04 674.78L380.96 674.78L377 668.42Z"/><path d="M391.34 675.98L399.26 675.98L395.3 669.62Z"/><path d="M421.84 676.68L429.76 676.68L425.8 670.32Z"/><path d="M444.94 676.68L452.86 676.68L448.9 670.32Z"/><path d="M500.34 676.68L508.26 676.68L504.3 670.32Z"/></g>
<path d="M57 438.5L66.2 440.3L80.6 442L100 444.5L125 448L156 452.5L190 457.2L215 460.8L243.5 465L272 469.5L300 475L318 482L328 494L334.6 506.2L340.7 584.5L354.3 650.4L368 669L398.5 673.5L483.5 675.8L506.3 674.8" fill="none" stroke="#e01ee0" stroke-width="1.4" stroke-dasharray="5 2.4 1.6 2.4" stroke-linejoin="round" clip-path="url(#cb)"/>
<g fill="none" stroke="#e01ee0" stroke-width="1.6" stroke-linejoin="miter" clip-path="url(#cb)"><path d="M53.04 435.32L60.96 435.32L57 441.68Z"/><path d="M62.24 437.12L70.16 437.12L66.2 443.48Z"/><path d="M76.64 438.82L84.56 438.82L80.6 445.18Z"/><path d="M96.04 441.32L103.96 441.32L100 447.68Z"/><path d="M121.04 444.82L128.96 444.82L125 451.18Z"/><path d="M152.04 449.32L159.96 449.32L156 455.68Z"/><path d="M186.04 454.02L193.96 454.02L190 460.38Z"/><path d="M211.04 457.62L218.96 457.62L215 463.98Z"/><path d="M239.54 461.82L247.46 461.82L243.5 468.18Z"/><path d="M268.04 466.32L275.96 466.32L272 472.68Z"/><path d="M296.04 471.82L303.96 471.82L300 478.18Z"/><path d="M314.04 478.82L321.96 478.82L318 485.18Z"/><path d="M324.04 490.82L331.96 490.82L328 497.18Z"/><path d="M330.64 503.02L338.56 503.02L334.6 509.38Z"/><path d="M336.74 581.32L344.66 581.32L340.7 587.68Z"/><path d="M350.34 647.22L358.26 647.22L354.3 653.58Z"/><path d="M364.04 665.82L371.96 665.82L368 672.18Z"/><path d="M394.54 670.32L402.46 670.32L398.5 676.68Z"/><path d="M479.54 672.62L487.46 672.62L483.5 678.98Z"/></g>
<path d="M56.5 434.2L75.8 436.5L103.7 440L132.5 444.8L161.2 449.2L192.9 454L220.8 458.8L247.5 463.1L275.4 466.9L289.8 469.8L299.4 471.7L309 474.6L317.7 478.5L323.5 484.2L327.9 496.8L334.6 525.4L338.7 575.5L346.1 636L354.4 665.3L359.7 672.6L367.6 675.8L376.4 677.8L396.6 679.5L423.5 680L451.2 680L506.3 680" fill="none" stroke="#1010d8" stroke-width="2.4" stroke-linejoin="round" clip-path="url(#cb)"/>
<g fill="none" stroke="#1010d8" stroke-width="2" stroke-linejoin="miter" clip-path="url(#cb)"><path d="M56.5 430L59.52 434.2L56.5 438.4L53.48 434.2Z"/><path d="M75.8 432.3L78.82 436.5L75.8 440.7L72.78 436.5Z"/><path d="M103.7 435.8L106.72 440L103.7 444.2L100.68 440Z"/><path d="M132.5 440.6L135.52 444.8L132.5 449L129.48 444.8Z"/><path d="M161.2 445L164.22 449.2L161.2 453.4L158.18 449.2Z"/><path d="M192.9 449.8L195.92 454L192.9 458.2L189.88 454Z"/><path d="M220.8 454.6L223.82 458.8L220.8 463L217.78 458.8Z"/><path d="M247.5 458.9L250.52 463.1L247.5 467.3L244.48 463.1Z"/><path d="M275.4 462.7L278.42 466.9L275.4 471.1L272.38 466.9Z"/><path d="M289.8 465.6L292.82 469.8L289.8 474L286.78 469.8Z"/><path d="M299.4 467.5L302.42 471.7L299.4 475.9L296.38 471.7Z"/><path d="M309 470.4L312.02 474.6L309 478.8L305.98 474.6Z"/><path d="M317.7 474.3L320.72 478.5L317.7 482.7L314.68 478.5Z"/><path d="M323.5 480L326.52 484.2L323.5 488.4L320.48 484.2Z"/><path d="M327.9 492.6L330.92 496.8L327.9 501L324.88 496.8Z"/><path d="M334.6 521.2L337.62 525.4L334.6 529.6L331.58 525.4Z"/><path d="M338.7 571.3L341.72 575.5L338.7 579.7L335.68 575.5Z"/><path d="M346.1 631.8L349.12 636L346.1 640.2L343.08 636Z"/><path d="M354.4 661.1L357.42 665.3L354.4 669.5L351.38 665.3Z"/><path d="M359.7 668.4L362.72 672.6L359.7 676.8L356.68 672.6Z"/><path d="M367.6 671.6L370.62 675.8L367.6 680L364.58 675.8Z"/><path d="M376.4 673.6L379.42 677.8L376.4 682L373.38 677.8Z"/><path d="M396.6 675.3L399.62 679.5L396.6 683.7L393.58 679.5Z"/><path d="M423.5 675.8L426.52 680L423.5 684.2L420.48 680Z"/><path d="M451.2 675.8L454.22 680L451.2 684.2L448.18 680Z"/></g>
<rect x="460.4" y="407.8" width="39" height="70.1" fill="#fff" stroke="#8a8a8a" stroke-width="1.1"/>
<path d="M463.3 415.9H485.2" stroke="#22cc22" stroke-width="1.4" stroke-dasharray="5 2.4 1.6 2.4"/>
<g fill="none" stroke="#22cc22" stroke-width="1.6"><path d="M471.33 412.2L471.33 419.6L477.87 415.9Z"/></g>
<path d="M463.3 429.3H485.2" stroke="#000" stroke-width="1.4" stroke-dasharray="5 2.4 1.6 2.4"/>
<g fill="none" stroke="#000" stroke-width="1.6"><path d="M477.87 425.6L477.87 433L471.33 429.3Z"/></g>
<path d="M463.3 442.7H485.2" stroke="#e8102a" stroke-width="1.4" stroke-dasharray="5 2.4 1.6 2.4"/>
<g fill="none" stroke="#e8102a" stroke-width="1.6"><path d="M470.64 445.88L478.56 445.88L474.6 439.52Z"/></g>
<path d="M463.3 456.1H485.2" stroke="#e01ee0" stroke-width="1.4" stroke-dasharray="5 2.4 1.6 2.4"/>
<g fill="none" stroke="#e01ee0" stroke-width="1.6"><path d="M470.64 452.92L478.56 452.92L474.6 459.28Z"/></g>
<path d="M463.3 469.5H485.2" stroke="#1010d8" stroke-width="2.4"/>
<g fill="none" stroke="#1010d8" stroke-width="2"><path d="M474.6 465.2L477.7 469.5L474.6 473.8L471.5 469.5Z"/></g>
<g fill="#111" stroke="#111" stroke-width="0.22" font-family="'Liberation Sans', Arial, sans-serif"><text x="487.8" y="419.8" font-size="11">A</text><text x="487.8" y="433.2" font-size="11">B</text><text x="487.8" y="446.6" font-size="11">C</text><text x="487.8" y="460" font-size="11">D</text><text x="487.8" y="473.4" font-size="11">E</text></g>
<g fill="#2e2e2e" stroke="#2e2e2e" stroke-width="0.3" font-family="'Liberation Sans', Arial, sans-serif"><text x="45" y="331.7" text-anchor="middle" font-size="12">20</text>
<text x="102.81" y="331.7" text-anchor="middle" font-size="12">30</text>
<text x="160.62" y="331.7" text-anchor="middle" font-size="12">40</text>
<text x="218.44" y="331.7" text-anchor="middle" font-size="12">50</text>
<text x="276.25" y="331.7" text-anchor="middle" font-size="12">60</text>
<text x="334.06" y="331.7" text-anchor="middle" font-size="12">70</text>
<text x="391.88" y="331.7" text-anchor="middle" font-size="12">80</text>
<text x="449.69" y="331.7" text-anchor="middle" font-size="12">90</text>
<text x="507.5" y="331.7" text-anchor="middle" font-size="12">100</text>
<text x="40.6" y="322" text-anchor="end" font-size="12">10<tspan dx="0.9" dy="-6.4" font-size="9">-4</tspan></text>
<text x="40.6" y="270.83" text-anchor="end" font-size="12">10<tspan dx="0.9" dy="-6.4" font-size="9">-3</tspan></text>
<text x="40.6" y="219.67" text-anchor="end" font-size="12">10<tspan dx="0.9" dy="-6.4" font-size="9">-2</tspan></text>
<text x="40.6" y="168.5" text-anchor="end" font-size="12">10<tspan dx="0.9" dy="-6.4" font-size="9">-1</tspan></text>
<text x="40.6" y="117.33" text-anchor="end" font-size="12">10<tspan dx="0.9" dy="-6.4" font-size="9">0</tspan></text>
<text x="40.6" y="66.17" text-anchor="end" font-size="12">10<tspan dx="0.9" dy="-6.4" font-size="9">1</tspan></text>
<text x="40.6" y="15" text-anchor="end" font-size="12">10<tspan dx="0.9" dy="-6.4" font-size="9">2</tspan></text>
<text x="276.25" y="347.6" text-anchor="middle" font-size="13.2">Temperature (°C)</text>
<text transform="translate(12.6 161.5) rotate(-90)" text-anchor="middle" font-size="13"><tspan font-family="'Liberation Serif', serif" font-style="italic">ρ</tspan> (Ω-cm)</text>
<text x="269.8" y="372.4" text-anchor="middle" font-size="16.6" fill="#111">(a)</text></g>
<g fill="#1a1a1a" stroke="#1a1a1a" stroke-width="0.3" font-family="'Liberation Sans', Arial, sans-serif"><text x="46.3" y="712.3" text-anchor="middle" font-size="12">20</text>
<text x="103.8" y="712.3" text-anchor="middle" font-size="12">30</text>
<text x="161.3" y="712.3" text-anchor="middle" font-size="12">40</text>
<text x="218.8" y="712.3" text-anchor="middle" font-size="12">50</text>
<text x="276.3" y="712.3" text-anchor="middle" font-size="12">60</text>
<text x="333.8" y="712.3" text-anchor="middle" font-size="12">70</text>
<text x="391.3" y="712.3" text-anchor="middle" font-size="12">80</text>
<text x="448.8" y="712.3" text-anchor="middle" font-size="12">90</text>
<text x="506.3" y="712.3" text-anchor="middle" font-size="12">100</text>
<text x="42.6" y="703.2" text-anchor="end" font-size="12">10<tspan dx="0.9" dy="-6.9" font-size="9">-4</tspan></text>
<text x="42.6" y="653.87" text-anchor="end" font-size="12">10<tspan dx="0.9" dy="-6.9" font-size="9">-3</tspan></text>
<text x="42.6" y="604.53" text-anchor="end" font-size="12">10<tspan dx="0.9" dy="-6.9" font-size="9">-2</tspan></text>
<text x="42.6" y="555.2" text-anchor="end" font-size="12">10<tspan dx="0.9" dy="-6.9" font-size="9">-1</tspan></text>
<text x="42.6" y="505.87" text-anchor="end" font-size="12">10<tspan dx="0.9" dy="-6.9" font-size="9">0</tspan></text>
<text x="42.6" y="456.53" text-anchor="end" font-size="12">10<tspan dx="0.9" dy="-6.9" font-size="9">1</tspan></text>
<text x="42.6" y="407.2" text-anchor="end" font-size="12">10<tspan dx="0.9" dy="-6.9" font-size="9">2</tspan></text>
<text x="276.3" y="727.6" text-anchor="middle" font-size="13.2">Temperature (°C)</text>
<text transform="translate(14.4 549) rotate(-90)" text-anchor="middle" font-size="13"><tspan font-family="'Liberation Serif', serif" font-style="italic">ρ</tspan> (Ω-cm)</text>
<text x="269.4" y="758.2" text-anchor="middle" font-size="16.6" fill="#111">(b)</text></g>
</svg>
</body></html>
